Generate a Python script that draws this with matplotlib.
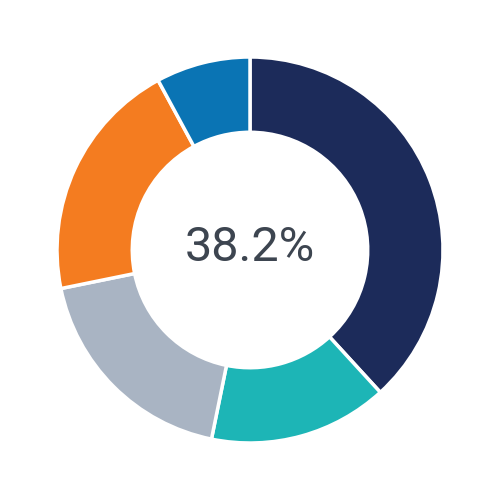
import matplotlib
matplotlib.use("Agg")
import matplotlib.pyplot as plt

labels = ["A", "B", "C", "D", "E"]
values = [38.2, 15.0, 18.6, 20.3, 7.9]
colors = ["#1c2b5a", "#1db5b6", "#a9b4c3", "#f47c20", "#0a74b4"]
center_text = "38.2%"

fig = plt.figure(figsize=(5, 5), dpi=100)
ax = fig.add_axes([0, 0, 1, 1])
ax.pie(values, colors=colors, startangle=90, counterclock=False,
       wedgeprops=dict(width=0.39, edgecolor="white", linewidth=2.5))
lim = 250 / 193
ax.set_xlim(-lim, lim)
ax.set_ylim(-lim, lim)
ax.set_aspect("equal")
ax.axis("off")
ax.text(0, 0.01, center_text, ha="center", va="center", fontsize=35,
        color="#3d4550", family=["Roboto", "DejaVu Sans"])
fig.savefig("out.png", dpi=100)
